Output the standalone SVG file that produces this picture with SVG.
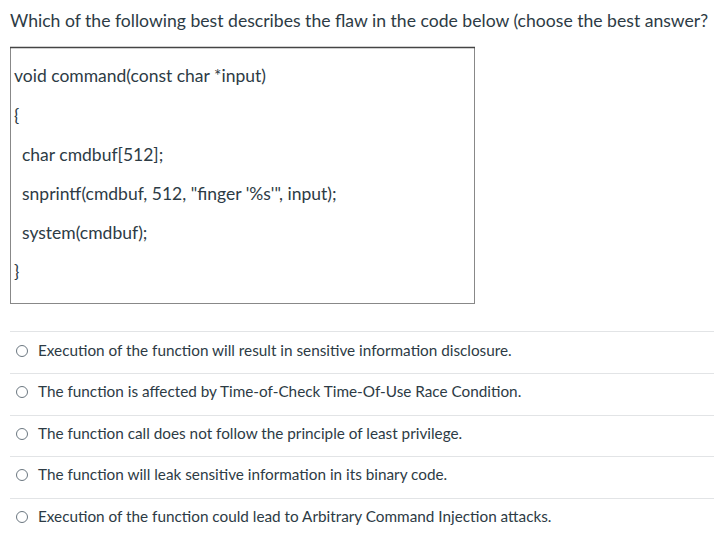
<svg xmlns="http://www.w3.org/2000/svg" width="714" height="539" viewBox="0 0 714 539">
<style>
text{font-family:Lato,"Liberation Sans",sans-serif;fill:#2d3b45}
.q{font-size:17.6px}
.c{font-size:17.5px}
.o{font-size:15.3px}
.sep{stroke:#e2e4e6;stroke-width:1}
.r{fill:#fff;stroke:#6b7780;stroke-width:1}
</style>
<rect width="714" height="539" fill="#fff"/>
<text class="q" x="10" y="27">Which of the following best describes the flaw in the code below (choose the best answer?</text>
<g id="codebox">
<rect x="10.5" y="47.5" width="464" height="256" fill="#fff" stroke="#888" stroke-width="1"/>
<line x1="10" y1="47.5" x2="475" y2="47.5" stroke="#444" stroke-width="1.5"/>
<text class="c" x="14" y="82">void command(const char *input)</text>
<text class="c" x="14" y="122">{</text>
<text class="c" x="22" y="161">char cmdbuf[512];</text>
<text class="c" x="22" y="200">snprintf(cmdbuf, 512, "finger '%s'", input);</text>
<text class="c" x="22" y="239">system(cmdbuf);</text>
<text class="c" x="14" y="278">}</text>
</g>
<g id="options">
<line class="sep" x1="10" y1="331.5" x2="714" y2="331.5"/>
<circle class="r" cx="22" cy="351" r="5.5"/>
<text class="o" x="38" y="356">Execution of the function will result in sensitive information disclosure.</text>
<line class="sep" x1="10" y1="373.5" x2="714" y2="373.5"/>
<circle class="r" cx="22" cy="392" r="5.5"/>
<text class="o" x="38" y="397">The function is affected by Time-of-Check Time-Of-Use Race Condition.</text>
<line class="sep" x1="10" y1="415.5" x2="714" y2="415.5"/>
<circle class="r" cx="22" cy="434" r="5.5"/>
<text class="o" x="38" y="439">The function call does not follow the principle of least privilege.</text>
<line class="sep" x1="10" y1="456.5" x2="714" y2="456.5"/>
<circle class="r" cx="22" cy="475" r="5.5"/>
<text class="o" x="38" y="480">The function will leak sensitive information in its binary code.</text>
<line class="sep" x1="10" y1="498.5" x2="714" y2="498.5"/>
<circle class="r" cx="22" cy="517" r="5.5"/>
<text class="o" x="38" y="522">Execution of the function could lead to Arbitrary Command Injection attacks.</text>
</g>
</svg>
